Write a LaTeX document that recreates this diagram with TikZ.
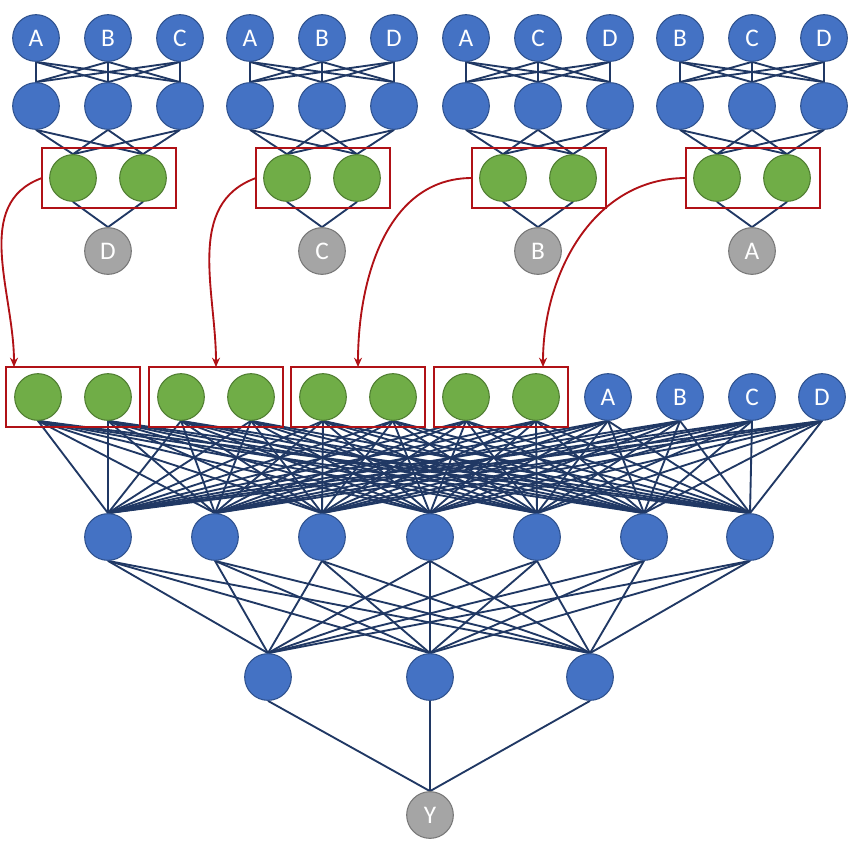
\documentclass[tikz,border=0pt]{standalone}
\usepackage{fontspec}
\setmainfont{Carlito}
\usetikzlibrary{arrows.meta,backgrounds}
\definecolor{nblue}{HTML}{4472C4}
\definecolor{nblueE}{HTML}{2F528F}
\definecolor{ngreen}{HTML}{70AD47}
\definecolor{ngreenE}{HTML}{507E32}
\definecolor{ngray}{HTML}{A5A5A5}
\definecolor{ngrayE}{HTML}{787878}
\definecolor{lnavy}{HTML}{203864}
\definecolor{dred}{HTML}{B01116}
\begin{document}
\begin{tikzpicture}[x=0.75pt,y=-0.75pt,
 neu/.style={circle,minimum size=35pt,inner sep=0pt,line width=0.8pt,text=white,font=\fontsize{19}{21}\selectfont},
 bn/.style={neu,fill=nblue,draw=nblueE},
 gn/.style={neu,fill=ngreen,draw=ngreenE},
 yn/.style={neu,fill=ngray,draw=ngrayE},
 con/.style={draw=lnavy,line width=1.4pt},
 box/.style={draw=dred,line width=2pt},
 red/.style={draw=dred,line width=1.4pt,-{Stealth[length=7pt,width=6pt]}}]
\useasboundingbox (0,0) rectangle (856,851);
% top groups
\foreach \g/\ox/\la/\lb/\lc/\lo in {1/0/A/B/C/D,2/214/A/B/D/C,3/430/A/C/D/B,4/644/B/C/D/A}{
 \node[bn] (t\g i1) at (36+\ox,38) {\la};
 \node[bn] (t\g i2) at (108+\ox,38) {\lb};
 \node[bn] (t\g i3) at (180+\ox,38) {\lc};
 \foreach \k in {1,2,3} \node[bn] (t\g h\k) at (36+72*\k-72+\ox,106) {};
 \node[gn] (t\g g1) at (73+\ox,178) {};
 \node[gn] (t\g g2) at (143+\ox,178) {};
 \node[yn] (t\g o) at (108+\ox,251) {\lo};
 \draw[box] (42+\ox,148) rectangle (176+\ox,208);
 \coordinate (t\g s) at (42+\ox,178);
}
% bottom layer
\foreach \b/\x in {1/38,2/181,3/323,4/466}{
 \node[gn] (bg\b a) at (\x,397) {};
 \node[gn] (bg\b b) at (\x+70,397) {};
 \draw[box] (\x-32,367) rectangle (\x+102,427);
}
\coordinate (bt1) at (14,367);
\coordinate (bt2) at (216,367);
\coordinate (bt3) at (358,367);
\coordinate (bt4) at (543,367);
\node[bn] (iA) at (608,397) {A};
\node[bn] (iB) at (680,397) {B};
\node[bn] (iC) at (752,397) {C};
\node[bn] (iD) at (822,397) {D};
\foreach \k/\x in {1/108,2/215,3/322,4/430,5/537,6/644,7/750} \node[bn] (h\k) at (\x,537) {};
\foreach \k/\x in {1/268,2/430,3/590} \node[bn] (q\k) at (\x,677) {};
\node[yn] (Y) at (430,815) {Y};
% connections (behind nodes)
\begin{scope}[on background layer]
\foreach \g in {1,2,3,4}{
 \foreach \i in {1,2,3}{\foreach \j in {1,2,3}{\path[con] (t\g i\i.south) -- (t\g h\j.north);}}
 \foreach \i in {1,2,3}{\foreach \j in {1,2}{\path[con] (t\g h\i.south) -- (t\g g\j.north);}}
 \foreach \j in {1,2}{\path[con] (t\g g\j.south) -- (t\g o.north);}
}
\foreach \s in {bg1a,bg1b,bg2a,bg2b,bg3a,bg3b,bg4a,bg4b,iA,iB,iC,iD}{
 \foreach \k in {1,...,7}{\path[con] (\s.south) -- (h\k.north);}}
\foreach \k in {1,...,7}{\foreach \j in {1,2,3}{\path[con] (h\k.south) -- (q\j.north);}}
\foreach \j in {1,2,3}{\path[con] (q\j.south) -- (Y.north);}
\end{scope}
% red arrows
\draw[red] (t1s) to[out=200,in=90] (bt1);
\draw[red] (t2s) to[out=200,in=90] (bt2);
\draw[red] (t3s) to[out=180,in=90] (bt3);
\draw[red] (t4s) to[out=180,in=90] (bt4);
\end{tikzpicture}
\end{document}
